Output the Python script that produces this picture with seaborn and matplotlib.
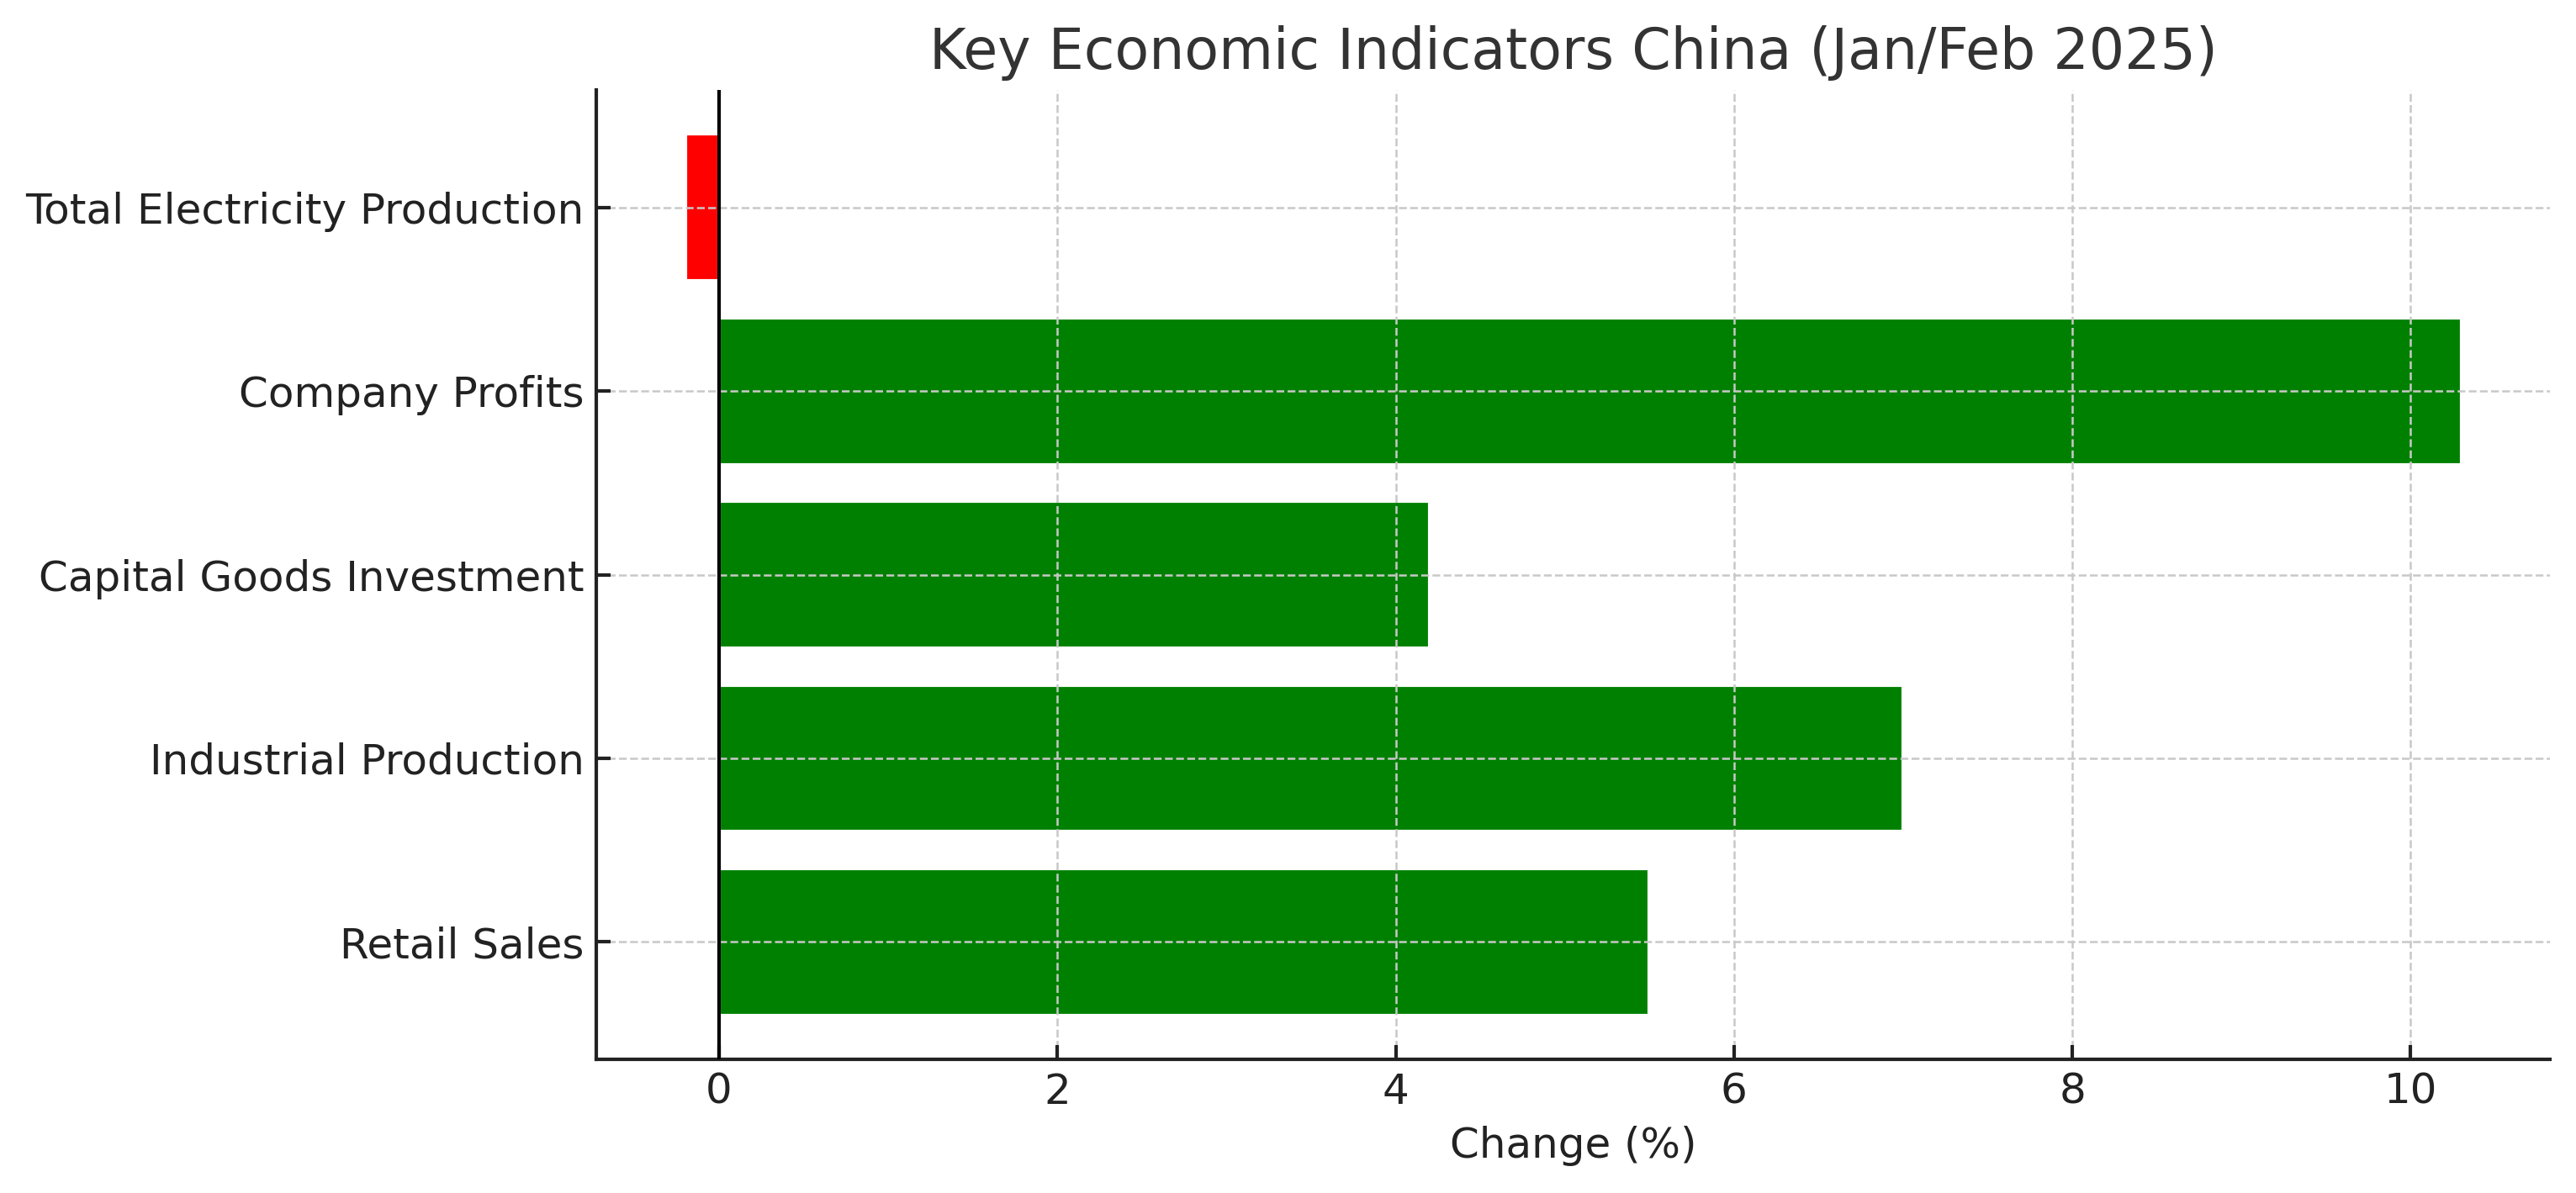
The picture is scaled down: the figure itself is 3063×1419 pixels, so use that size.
import seaborn as sns
import matplotlib.pyplot as plt
import pandas as pd

# Indicator names, listed from top to bottom as drawn
indicators = [
    "Total Electricity Production",
    "Company Profits",
    "Capital Goods Investment",
    "Industrial Production",
    "Retail Sales",
]
changes = [-0.2, 10.3, 4.2, 7.0, 5.5]

df = pd.DataFrame({"Indicator": indicators, "Change": changes})
df["Sign"] = ["neg" if v < 0 else "pos" for v in df["Change"]]

sns.set_style("white")
plt.rcParams["font.family"] = ["DejaVu Sans"]

fig, ax = plt.subplots(figsize=(10.21, 4.73), dpi=300)
sns.barplot(data=df, x="Change", y="Indicator", hue="Sign", orient="h",
            palette={"neg": "red", "pos": "green"}, dodge=False,
            width=0.8, saturation=1, legend=False, ax=ax)

ax.axvline(0, color="black", linewidth=1, zorder=5)
ax.set_ylim(4.64, -0.64)
ax.margins(x=0.05)

ax.grid(True, linestyle="--", color="#c8c8c8", linewidth=0.6)
ax.set_axisbelow(False)
ax.tick_params(direction="in", length=4, width=1, labelsize=12, colors="#222222", left=True, bottom=True)
for side in ["top", "right"]:
    ax.spines[side].set_visible(False)
for side in ["left", "bottom"]:
    ax.spines[side].set_color("#222222")
    ax.spines[side].set_linewidth(1)

ax.set_xlabel("Change (%)", fontsize=12, color="#222222")
ax.set_ylabel("")
ax.set_title("Key Economic Indicators China (Jan/Feb 2025)", fontsize=16, color="#333333")

plt.subplots_adjust(left=0.2315, right=0.990, top=0.9246, bottom=0.112)
plt.savefig("out.png", dpi=300)
